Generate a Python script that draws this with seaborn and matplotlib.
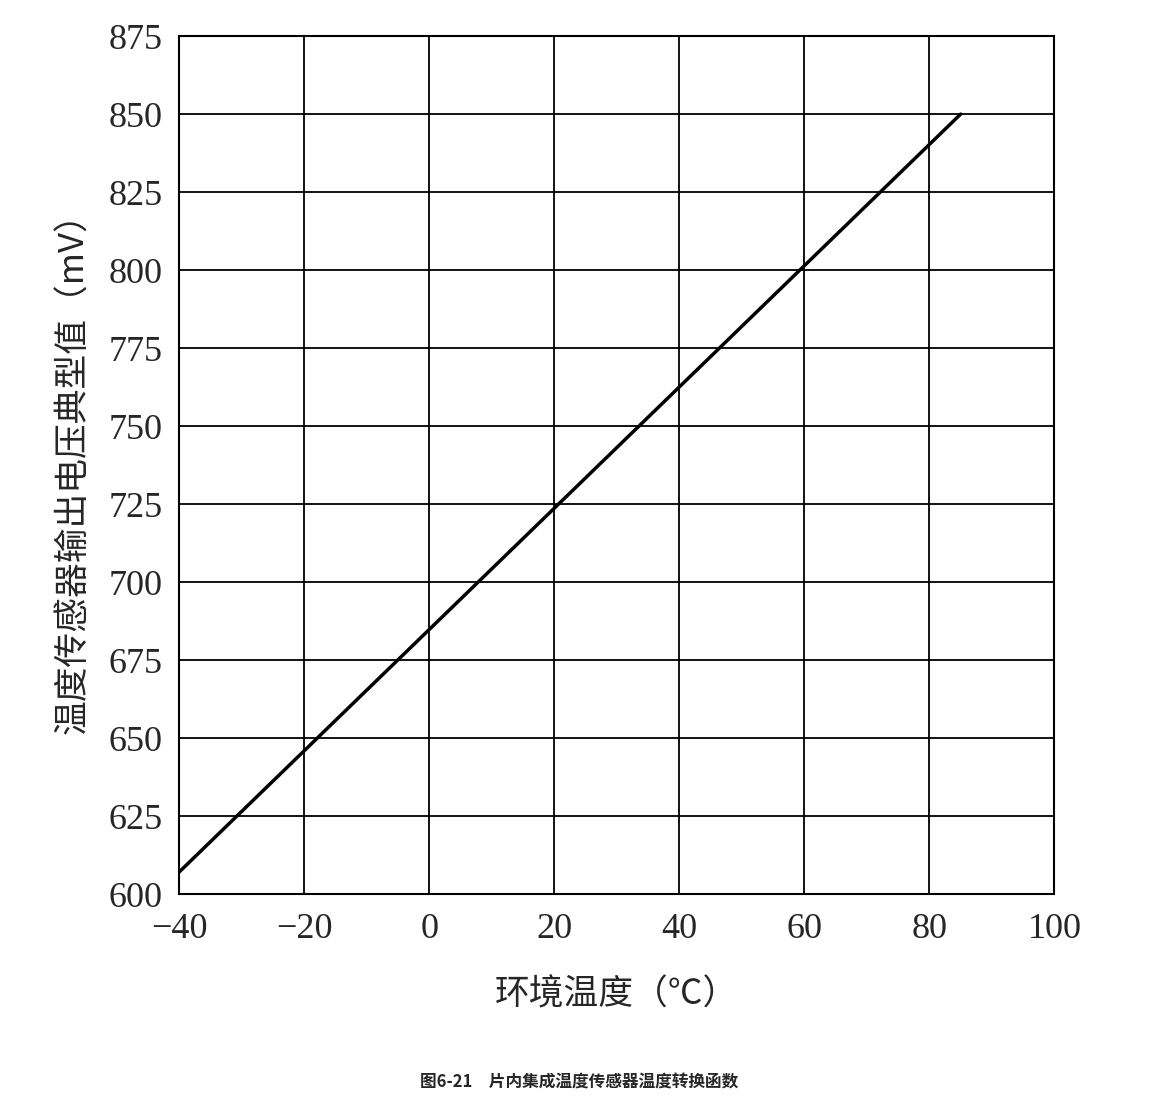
import matplotlib
matplotlib.use("Agg")
import matplotlib.pyplot as plt
import seaborn as sns
import pandas as pd

temps = [-40, 85]
voltages = [607, 850]
xticks = [-40, -20, 0, 20, 40, 60, 80, 100]
yticks = [600, 625, 650, 675, 700, 725, 750, 775, 800, 825, 850, 875]
xlabel = "环境温度（℃）"
ylabel = "温度传感器输出电压典型值（mV）"
caption = "图6-21　片内集成温度传感器温度转换函数"

sns.set_style("white")
plt.rcParams['font.family'] = ['Liberation Serif', 'Noto Sans CJK SC', 'DejaVu Sans']
plt.rcParams['axes.unicode_minus'] = True

fig = plt.figure(figsize=(11.58, 11.07), dpi=100)
ax = fig.add_axes([0.1546, 0.1924, 0.756, 0.775])
df = pd.DataFrame({"t": temps, "v": voltages})
sns.lineplot(data=df, x="t", y="v", ax=ax, color="black", linewidth=2.5)
ax.set_xlim(-40, 100)
ax.set_ylim(600, 875)
ax.set_xticks(xticks)
ax.set_yticks(yticks)
ax.set_xticklabels([str(x).replace("-", "−") for x in xticks])
ax.grid(True, color="black", linewidth=1.3)
for s in ax.spines.values():
    s.set_color("black"); s.set_linewidth(1.5)
ax.tick_params(axis="both", labelsize=26, length=0)
ax.tick_params(axis="x", pad=14)
ax.tick_params(axis="y", pad=12)
ax.set_xlabel(xlabel, fontsize=25, family=['Noto Sans CJK SC'], labelpad=22)
ax.set_ylabel(ylabel, fontsize=25, family=['Noto Sans CJK SC'], labelpad=12)
fig.text(0.5, 0.018, caption, ha="center", fontsize=12, family=['Noto Sans CJK SC'], weight="bold")
fig.savefig("out.png", dpi=100)
